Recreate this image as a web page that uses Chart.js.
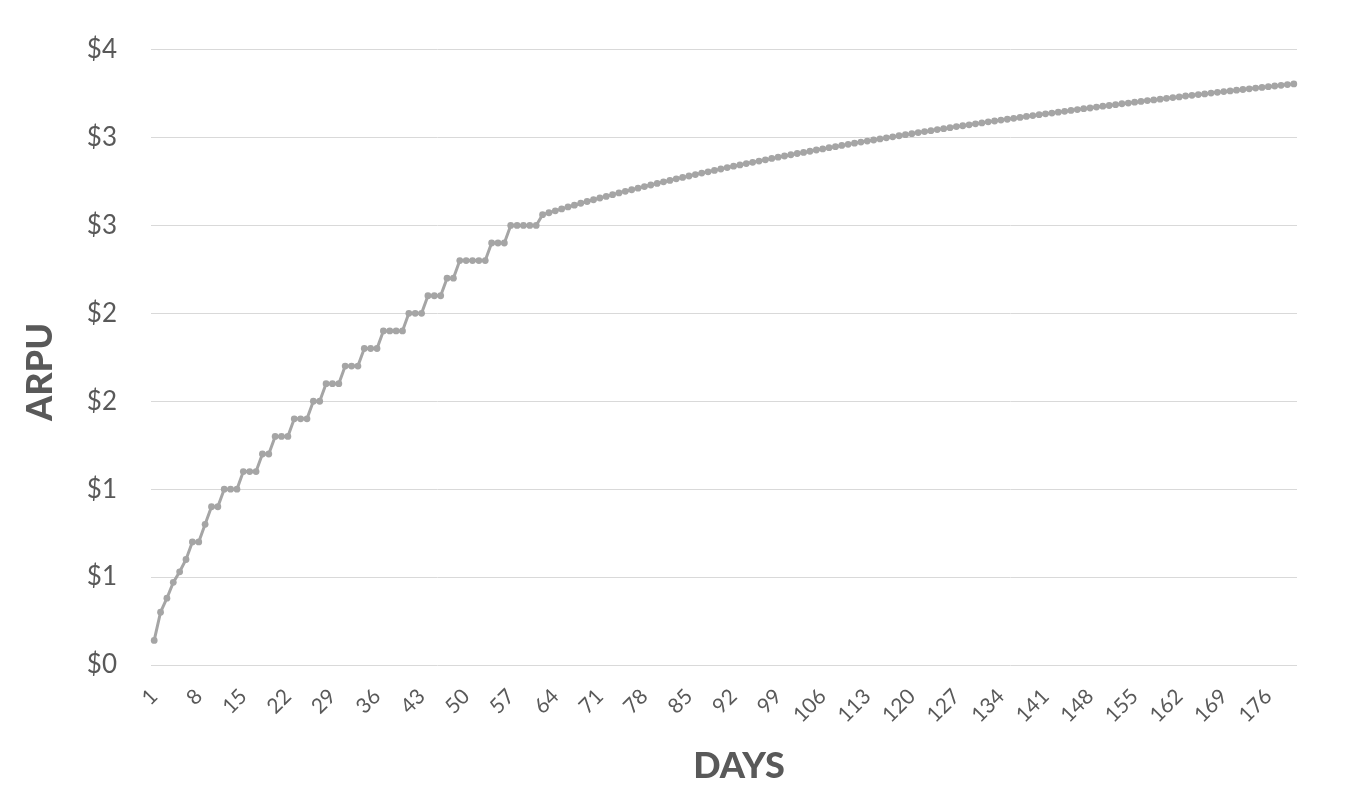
<!DOCTYPE html>
<html>
<head>
<meta charset="utf-8">
<title>ARPU by day</title>
<script src="https://cdn.jsdelivr.net/npm/chart.js@4.4.0/dist/chart.umd.min.js"></script>
<style>
  html, body { margin: 0; padding: 0; background: #fff; }
  #wrap { width: 1358px; height: 793px; }
</style>
</head>
<body>
<div id="wrap"><canvas id="arpuChart" width="1358" height="793"></canvas></div>
<script>
// Days since install (categories)
const days = Array.from({ length: 180 }, (_, i) => i + 1);

// Cumulative ARPU in $
const arpu = [
    0.14, 0.30, 0.38, 0.47, 0.53, 0.60, 0.70, 0.70, 0.80, 0.90,
    0.90, 1.00, 1.00, 1.00, 1.10, 1.10, 1.10, 1.20, 1.20, 1.30,
    1.30, 1.30, 1.40, 1.40, 1.40, 1.50, 1.50, 1.60, 1.60, 1.60,
    1.70, 1.70, 1.70, 1.80, 1.80, 1.80, 1.90, 1.90, 1.90, 1.90,
    2.00, 2.00, 2.00, 2.10, 2.10, 2.10, 2.20, 2.20, 2.30, 2.30,
    2.30, 2.30, 2.30, 2.40, 2.40, 2.40, 2.50, 2.50, 2.50, 2.50,
    2.50,
    2.561, 2.572, 2.583, 2.594, 2.605, 2.615, 2.626, 2.636, 2.646, 2.656,
    2.665, 2.675, 2.685, 2.694, 2.703, 2.712, 2.721, 2.730, 2.739, 2.748,
    2.756, 2.765, 2.773, 2.781, 2.789, 2.798, 2.805, 2.813, 2.821, 2.829,
    2.837, 2.844, 2.852, 2.859, 2.866, 2.873, 2.881, 2.888, 2.895, 2.902,
    2.909, 2.915, 2.922, 2.929, 2.935, 2.942, 2.948, 2.955, 2.961, 2.968,
    2.974, 2.980, 2.986, 2.992, 2.998, 3.004, 3.010, 3.016, 3.022, 3.028,
    3.034, 3.039, 3.045, 3.050, 3.056, 3.062, 3.067, 3.072, 3.078, 3.083,
    3.089, 3.094, 3.099, 3.104, 3.109, 3.114, 3.120, 3.125, 3.130, 3.135,
    3.139, 3.144, 3.149, 3.154, 3.159, 3.164, 3.168, 3.173, 3.178, 3.182,
    3.187, 3.192, 3.196, 3.201, 3.205, 3.210, 3.214, 3.218, 3.223, 3.227,
    3.231, 3.236, 3.240, 3.244, 3.248, 3.253, 3.257, 3.261, 3.265, 3.269,
    3.273, 3.277, 3.281, 3.285, 3.289, 3.293, 3.297, 3.301, 3.305
];

// y axis: 0 .. 3.5 in steps of 0.5, shown as whole dollars
const yMin = 0;
const yMax = 3.5;
const yStep = 0.5;
const xLabelEvery = 7;

const textColor = '#595959';
const lineColor = '#a5a5a5';

// axis titles drawn by hand so they sit where the original has them
const axisTitles = {
    id: 'axisTitles',
    afterDraw(chart) {
        const ctx = chart.ctx;
        ctx.save();
        ctx.fillStyle = textColor;
        ctx.font = '900 36px Lato, "Open Sans", sans-serif';
        ctx.textAlign = 'center';
        ctx.textBaseline = 'alphabetic';
        ctx.fillText('DAYS', 739, 778);
        ctx.translate(52, 372);
        ctx.rotate(-Math.PI / 2);
        ctx.fillText('ARPU', 0, 0);
        ctx.restore();
    }
};

new Chart(document.getElementById('arpuChart'), {
    type: 'line',
    data: {
        labels: days,
        datasets: [{
            label: 'ARPU',
            data: arpu,
            borderColor: lineColor,
            borderWidth: 3,
            backgroundColor: lineColor,
            pointBackgroundColor: lineColor,
            pointBorderWidth: 0,
            pointRadius: 3.4,
            tension: 0,
            fill: false
        }]
    },
    options: {
        responsive: false,
        animation: false,
        layout: { padding: { top: 49, right: 61, left: 0, bottom: 0 } },
        plugins: {
            legend: { display: false },
            tooltip: { enabled: false }
        },
        scales: {
            x: {
                offset: true,
                grid: { display: false },
                border: { display: false },
                ticks: {
                    autoSkip: false,
                    minRotation: 45,
                    maxRotation: 45,
                    padding: 11,
                    color: textColor,
                    font: { family: 'Lato', size: 21, weight: '400' },
                    callback: (v, i) => (i % xLabelEvery === 0 ? days[i] : '')
                },
                afterFit: s => { s.height = 128; }
            },
            y: {
                min: yMin,
                max: yMax,
                grid: { color: '#d9d9d9', lineWidth: 1, drawTicks: false },
                border: { display: false },
                ticks: {
                    stepSize: yStep,
                    padding: 34,
                    color: textColor,
                    font: { family: 'Lato', size: 26, weight: '400' },
                    callback: v => '$' + Math.round(v)
                },
                afterFit: s => { s.width = 151; }
            }
        }
    },
    plugins: [axisTitles]
});
</script>
</body>
</html>
